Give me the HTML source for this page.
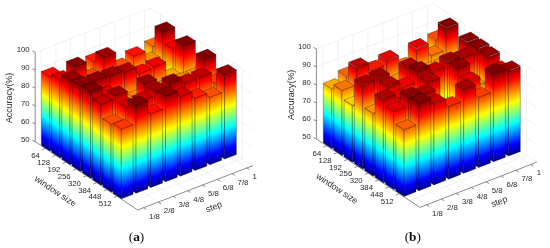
<!DOCTYPE html>
<html lang="en"><head><meta charset="utf-8"><title>Accuracy vs window size and step</title>
<style>html,body{margin:0;padding:0;background:#fff}svg{display:block}rect,path{vector-effect:non-scaling-stroke}</style></head>
<body>
<svg width="550" height="248" viewBox="0 0 550 248">
<defs><linearGradient id="jl" gradientUnits="userSpaceOnUse" x1="0" y1="50" x2="0" y2="100"><stop offset="0" stop-color="#000091"/><stop offset="0.106" stop-color="#0000ff"/><stop offset="0.338" stop-color="#00ffff"/><stop offset="0.578" stop-color="#ffff00"/><stop offset="0.836" stop-color="#ff0000"/><stop offset="0.97" stop-color="#800000"/><stop offset="1" stop-color="#800000"/></linearGradient><linearGradient id="jf" gradientUnits="userSpaceOnUse" x1="0" y1="50" x2="0" y2="100"><stop offset="0" stop-color="#000091"/><stop offset="0.106" stop-color="#0000ff"/><stop offset="0.338" stop-color="#00ffff"/><stop offset="0.578" stop-color="#ffff00"/><stop offset="0.836" stop-color="#ff0000"/><stop offset="0.97" stop-color="#800000"/><stop offset="1" stop-color="#800000"/></linearGradient></defs>
<rect width="550" height="248" fill="#fff"/>
<g><path d="M41.1 139.33L41.1 50.03M41.1 139.33L143.6 207.73M55.85 133.65L55.85 44.35M55.85 133.65L158.35 202.05M70.6 127.97L70.6 38.67M70.6 127.97L173.1 196.37M85.35 122.29L85.35 32.99M85.35 122.29L187.85 190.69M100.1 116.61L100.1 27.31M100.1 116.61L202.6 185.01M114.85 110.93L114.85 21.63M114.85 110.93L217.35 179.33M129.6 105.25L129.6 15.95M129.6 105.25L232.1 173.65M144.35 99.57L144.35 10.27M144.35 99.57L246.85 167.97M160.5 104.14L160.5 14.84M45.45 148.44L160.5 104.14M170.75 110.98L170.75 21.68M55.7 155.28L170.75 110.98M181 117.82L181 28.52M65.95 162.12L181 117.82M191.25 124.66L191.25 35.36M76.2 168.96L191.25 124.66M201.5 131.5L201.5 42.2M86.45 175.8L201.5 131.5M211.75 138.34L211.75 49.04M96.7 182.64L211.75 138.34M222 145.18L222 55.88M106.95 189.48L222 145.18M232.25 152.02L232.25 62.72M117.2 196.32L232.25 152.02M242.5 158.86L242.5 69.56M127.45 203.16L242.5 158.86M35.2 141.6L150.25 97.3M150.25 97.3L252.75 165.7M35.2 123.74L150.25 79.44M150.25 79.44L252.75 147.84M35.2 105.88L150.25 61.58M150.25 61.58L252.75 129.98M35.2 88.02L150.25 43.72M150.25 43.72L252.75 112.12M35.2 70.16L150.25 25.86M150.25 25.86L252.75 94.26M35.2 52.3L150.25 8M150.25 8L252.75 76.4" fill="none" stroke="#ececec" stroke-width="0.7"/>
<g stroke="#000" stroke-opacity="0.5" stroke-width="0.6" stroke-linejoin="round" vector-effect="non-scaling-stroke">
<rect transform="matrix(10.25 6.84 0 -1.79 138.45 191.14)" x="0.6" y="50" width="0.8" height="36.25" fill="url(#jl)"/>
<rect transform="matrix(14.75 -5.68 0 -1.79 40.7 243.88)" x="7.6" y="50" width="0.8" height="36.25" fill="url(#jf)"/>
<path d="M152.8 46.67L164.6 42.13L156.4 36.66L144.6 41.2Z" fill="#ff6e00"/>
<rect transform="matrix(10.25 6.84 0 -1.79 123.7 196.82)" x="0.6" y="50" width="0.8" height="29.8" fill="url(#jl)"/>
<rect transform="matrix(14.75 -5.68 0 -1.79 40.7 243.88)" x="6.6" y="50" width="0.8" height="29.8" fill="url(#jf)"/>
<path d="M138.05 63.87L149.85 59.33L141.65 53.86L129.85 58.4Z" fill="#ffed00"/>
<rect transform="matrix(10.25 6.84 0 -1.79 108.95 202.5)" x="0.6" y="50" width="0.8" height="29.9" fill="url(#jl)"/>
<rect transform="matrix(14.75 -5.68 0 -1.79 40.7 243.88)" x="5.6" y="50" width="0.8" height="29.9" fill="url(#jf)"/>
<path d="M123.3 69.37L135.1 64.83L126.9 59.36L115.1 63.9Z" fill="#ffeb00"/>
<rect transform="matrix(10.25 6.84 0 -1.79 94.2 208.18)" x="0.6" y="50" width="0.8" height="30" fill="url(#jl)"/>
<rect transform="matrix(14.75 -5.68 0 -1.79 40.7 243.88)" x="4.6" y="50" width="0.8" height="30" fill="url(#jf)"/>
<path d="M108.55 74.88L120.35 70.33L112.15 64.86L100.35 69.4Z" fill="#ffe900"/>
<rect transform="matrix(10.25 6.84 0 -1.79 79.45 213.86)" x="0.6" y="50" width="0.8" height="40.48" fill="url(#jl)"/>
<rect transform="matrix(14.75 -5.68 0 -1.79 40.7 243.88)" x="3.6" y="50" width="0.8" height="40.48" fill="url(#jf)"/>
<path d="M93.8 61.84L105.6 57.29L97.4 51.82L85.6 56.37Z" fill="#ff1a00"/>
<rect transform="matrix(10.25 6.84 0 -1.79 64.7 219.54)" x="0.6" y="50" width="0.8" height="35.24" fill="url(#jl)"/>
<rect transform="matrix(14.75 -5.68 0 -1.79 40.7 243.88)" x="2.6" y="50" width="0.8" height="35.24" fill="url(#jf)"/>
<path d="M79.05 76.88L90.85 72.33L82.65 66.86L70.85 71.41Z" fill="#ff8200"/>
<rect transform="matrix(10.25 6.84 0 -1.79 49.95 225.22)" x="0.6" y="50" width="0.8" height="35.34" fill="url(#jl)"/>
<rect transform="matrix(14.75 -5.68 0 -1.79 40.7 243.88)" x="1.6" y="50" width="0.8" height="35.34" fill="url(#jf)"/>
<path d="M64.3 82.38L76.1 77.83L67.9 72.36L56.1 76.91Z" fill="#ff8000"/>
<rect transform="matrix(10.25 6.84 0 -1.79 35.2 230.9)" x="0.6" y="50" width="0.8" height="41.49" fill="url(#jl)"/>
<rect transform="matrix(14.75 -5.68 0 -1.79 40.7 243.88)" x="0.6" y="50" width="0.8" height="41.49" fill="url(#jf)"/>
<path d="M49.55 77.07L61.35 72.53L53.15 67.06L41.35 71.6Z" fill="#ff0600"/>
<rect transform="matrix(10.25 6.84 0 -1.79 138.45 191.14)" x="1.6" y="50" width="0.8" height="48.44" fill="url(#jl)"/>
<rect transform="matrix(14.75 -5.68 0 -1.79 50.95 250.72)" x="7.6" y="50" width="0.8" height="48.44" fill="url(#jf)"/>
<path d="M163.05 31.74L174.85 27.2L166.65 21.73L154.85 26.27Z" fill="#810000"/>
<rect transform="matrix(10.25 6.84 0 -1.79 123.7 196.82)" x="1.6" y="50" width="0.8" height="34.84" fill="url(#jl)"/>
<rect transform="matrix(14.75 -5.68 0 -1.79 50.95 250.72)" x="6.6" y="50" width="0.8" height="34.84" fill="url(#jf)"/>
<path d="M148.3 61.71L160.1 57.17L151.9 51.7L140.1 56.24Z" fill="#ff8a00"/>
<rect transform="matrix(10.25 6.84 0 -1.79 108.95 202.5)" x="1.6" y="50" width="0.8" height="40.99" fill="url(#jl)"/>
<rect transform="matrix(14.75 -5.68 0 -1.79 50.95 250.72)" x="5.6" y="50" width="0.8" height="40.99" fill="url(#jf)"/>
<path d="M133.55 56.41L145.35 51.86L137.15 46.39L125.35 50.94Z" fill="#ff1000"/>
<rect transform="matrix(10.25 6.84 0 -1.79 94.2 208.18)" x="1.6" y="50" width="0.8" height="37.76" fill="url(#jl)"/>
<rect transform="matrix(14.75 -5.68 0 -1.79 50.95 250.72)" x="4.6" y="50" width="0.8" height="37.76" fill="url(#jf)"/>
<path d="M118.8 67.86L130.6 63.31L122.4 57.84L110.6 62.38Z" fill="#ff5000"/>
<rect transform="matrix(10.25 6.84 0 -1.79 79.45 213.86)" x="1.6" y="50" width="0.8" height="46.93" fill="url(#jl)"/>
<rect transform="matrix(14.75 -5.68 0 -1.79 50.95 250.72)" x="3.6" y="50" width="0.8" height="46.93" fill="url(#jf)"/>
<path d="M104.05 57.16L115.85 52.62L107.65 47.14L95.85 51.69Z" fill="#9d0000"/>
<rect transform="matrix(10.25 6.84 0 -1.79 64.7 219.54)" x="1.6" y="50" width="0.8" height="38.26" fill="url(#jl)"/>
<rect transform="matrix(14.75 -5.68 0 -1.79 50.95 250.72)" x="2.6" y="50" width="0.8" height="38.26" fill="url(#jf)"/>
<path d="M89.3 78.32L101.1 73.78L92.9 68.31L81.1 72.85Z" fill="#ff4600"/>
<rect transform="matrix(10.25 6.84 0 -1.79 49.95 225.22)" x="1.6" y="50" width="0.8" height="47.84" fill="url(#jl)"/>
<rect transform="matrix(14.75 -5.68 0 -1.79 50.95 250.72)" x="1.6" y="50" width="0.8" height="47.84" fill="url(#jf)"/>
<path d="M74.55 66.89L86.35 62.35L78.15 56.88L66.35 61.42Z" fill="#8c0000"/>
<rect transform="matrix(10.25 6.84 0 -1.79 35.2 230.9)" x="1.6" y="50" width="0.8" height="43.51" fill="url(#jl)"/>
<rect transform="matrix(14.75 -5.68 0 -1.79 50.95 250.72)" x="0.6" y="50" width="0.8" height="43.51" fill="url(#jf)"/>
<path d="M59.8 80.31L71.6 75.76L63.4 70.29L51.6 74.84Z" fill="#de0000"/>
<rect transform="matrix(10.25 6.84 0 -1.79 138.45 191.14)" x="2.6" y="50" width="0.8" height="42.3" fill="url(#jl)"/>
<rect transform="matrix(14.75 -5.68 0 -1.79 61.2 257.56)" x="7.6" y="50" width="0.8" height="42.3" fill="url(#jf)"/>
<path d="M173.3 49.55L185.1 45L176.9 39.53L165.1 44.08Z" fill="#f50000"/>
<rect transform="matrix(10.25 6.84 0 -1.79 123.7 196.82)" x="2.6" y="50" width="0.8" height="29.8" fill="url(#jl)"/>
<rect transform="matrix(14.75 -5.68 0 -1.79 61.2 257.56)" x="6.6" y="50" width="0.8" height="29.8" fill="url(#jf)"/>
<path d="M158.55 77.55L170.35 73.01L162.15 67.54L150.35 72.08Z" fill="#ffed00"/>
<rect transform="matrix(10.25 6.84 0 -1.79 108.95 202.5)" x="2.6" y="50" width="0.8" height="34.94" fill="url(#jl)"/>
<rect transform="matrix(14.75 -5.68 0 -1.79 61.2 257.56)" x="5.6" y="50" width="0.8" height="34.94" fill="url(#jf)"/>
<path d="M143.8 74.05L155.6 69.51L147.4 64.04L135.6 68.58Z" fill="#ff8800"/>
<rect transform="matrix(10.25 6.84 0 -1.79 94.2 208.18)" x="2.6" y="50" width="0.8" height="35.04" fill="url(#jl)"/>
<rect transform="matrix(14.75 -5.68 0 -1.79 61.2 257.56)" x="4.6" y="50" width="0.8" height="35.04" fill="url(#jf)"/>
<path d="M129.05 79.55L140.85 75.01L132.65 69.54L120.85 74.08Z" fill="#ff8600"/>
<rect transform="matrix(10.25 6.84 0 -1.79 79.45 213.86)" x="2.6" y="50" width="0.8" height="35.14" fill="url(#jl)"/>
<rect transform="matrix(14.75 -5.68 0 -1.79 61.2 257.56)" x="3.6" y="50" width="0.8" height="35.14" fill="url(#jf)"/>
<path d="M114.3 85.06L126.1 80.51L117.9 75.04L106.1 79.58Z" fill="#ff8400"/>
<rect transform="matrix(10.25 6.84 0 -1.79 64.7 219.54)" x="2.6" y="50" width="0.8" height="35.24" fill="url(#jl)"/>
<rect transform="matrix(14.75 -5.68 0 -1.79 61.2 257.56)" x="2.6" y="50" width="0.8" height="35.24" fill="url(#jf)"/>
<path d="M99.55 90.56L111.35 86.01L103.15 80.54L91.35 85.09Z" fill="#ff8200"/>
<rect transform="matrix(10.25 6.84 0 -1.79 49.95 225.22)" x="2.6" y="50" width="0.8" height="35.34" fill="url(#jl)"/>
<rect transform="matrix(14.75 -5.68 0 -1.79 61.2 257.56)" x="1.6" y="50" width="0.8" height="35.34" fill="url(#jf)"/>
<path d="M84.8 96.06L96.6 91.51L88.4 86.04L76.6 90.59Z" fill="#ff8000"/>
<rect transform="matrix(10.25 6.84 0 -1.79 35.2 230.9)" x="2.6" y="50" width="0.8" height="47.23" fill="url(#jl)"/>
<rect transform="matrix(14.75 -5.68 0 -1.79 61.2 257.56)" x="0.6" y="50" width="0.8" height="47.23" fill="url(#jf)"/>
<path d="M70.05 80.5L81.85 75.96L73.65 70.49L61.85 75.03Z" fill="#980000"/>
<rect transform="matrix(10.25 6.84 0 -1.79 138.45 191.14)" x="3.6" y="50" width="0.8" height="48.44" fill="url(#jl)"/>
<rect transform="matrix(14.75 -5.68 0 -1.79 71.45 264.4)" x="7.6" y="50" width="0.8" height="48.44" fill="url(#jf)"/>
<path d="M183.55 45.42L195.35 40.88L187.15 35.41L175.35 39.95Z" fill="#810000"/>
<rect transform="matrix(10.25 6.84 0 -1.79 123.7 196.82)" x="3.6" y="50" width="0.8" height="33.33" fill="url(#jl)"/>
<rect transform="matrix(14.75 -5.68 0 -1.79 71.45 264.4)" x="6.6" y="50" width="0.8" height="33.33" fill="url(#jf)"/>
<path d="M168.8 78.09L180.6 73.54L172.4 68.07L160.6 72.62Z" fill="#ffa700"/>
<rect transform="matrix(10.25 6.84 0 -1.79 108.95 202.5)" x="3.6" y="50" width="0.8" height="42.8" fill="url(#jl)"/>
<rect transform="matrix(14.75 -5.68 0 -1.79 71.45 264.4)" x="5.6" y="50" width="0.8" height="42.8" fill="url(#jf)"/>
<path d="M154.05 66.86L165.85 62.31L157.65 56.84L145.85 61.38Z" fill="#ec0000"/>
<rect transform="matrix(10.25 6.84 0 -1.79 94.2 208.18)" x="3.6" y="50" width="0.8" height="42.09" fill="url(#jl)"/>
<rect transform="matrix(14.75 -5.68 0 -1.79 71.45 264.4)" x="4.6" y="50" width="0.8" height="42.09" fill="url(#jf)"/>
<path d="M139.3 73.8L151.1 69.26L142.9 63.79L131.1 68.33Z" fill="#f90000"/>
<rect transform="matrix(10.25 6.84 0 -1.79 79.45 213.86)" x="3.6" y="50" width="0.8" height="46.02" fill="url(#jl)"/>
<rect transform="matrix(14.75 -5.68 0 -1.79 71.45 264.4)" x="3.6" y="50" width="0.8" height="46.02" fill="url(#jf)"/>
<path d="M124.55 72.46L136.35 67.92L128.15 62.45L116.35 66.99Z" fill="#af0000"/>
<rect transform="matrix(10.25 6.84 0 -1.79 64.7 219.54)" x="3.6" y="50" width="0.8" height="47.13" fill="url(#jl)"/>
<rect transform="matrix(14.75 -5.68 0 -1.79 71.45 264.4)" x="2.6" y="50" width="0.8" height="47.13" fill="url(#jf)"/>
<path d="M109.8 76.16L121.6 71.62L113.4 66.15L101.6 70.69Z" fill="#9a0000"/>
<rect transform="matrix(10.25 6.84 0 -1.79 49.95 225.22)" x="3.6" y="50" width="0.8" height="47.64" fill="url(#jl)"/>
<rect transform="matrix(14.75 -5.68 0 -1.79 71.45 264.4)" x="1.6" y="50" width="0.8" height="47.64" fill="url(#jf)"/>
<path d="M95.05 80.93L106.85 76.39L98.65 70.91L86.85 75.46Z" fill="#900000"/>
<rect transform="matrix(10.25 6.84 0 -1.79 35.2 230.9)" x="3.6" y="50" width="0.8" height="47.84" fill="url(#jl)"/>
<rect transform="matrix(14.75 -5.68 0 -1.79 71.45 264.4)" x="0.6" y="50" width="0.8" height="47.84" fill="url(#jf)"/>
<path d="M80.3 86.25L92.1 81.71L83.9 76.24L72.1 80.78Z" fill="#8c0000"/>
<rect transform="matrix(10.25 6.84 0 -1.79 138.45 191.14)" x="4.6" y="50" width="0.8" height="34.74" fill="url(#jl)"/>
<rect transform="matrix(14.75 -5.68 0 -1.79 81.7 271.24)" x="7.6" y="50" width="0.8" height="34.74" fill="url(#jf)"/>
<path d="M193.8 76.73L205.6 72.19L197.4 66.71L185.6 71.26Z" fill="#ff8c00"/>
<rect transform="matrix(10.25 6.84 0 -1.79 123.7 196.82)" x="4.6" y="50" width="0.8" height="34.84" fill="url(#jl)"/>
<rect transform="matrix(14.75 -5.68 0 -1.79 81.7 271.24)" x="6.6" y="50" width="0.8" height="34.84" fill="url(#jf)"/>
<path d="M179.05 82.23L190.85 77.69L182.65 72.22L170.85 76.76Z" fill="#ff8a00"/>
<rect transform="matrix(10.25 6.84 0 -1.79 108.95 202.5)" x="4.6" y="50" width="0.8" height="34.94" fill="url(#jl)"/>
<rect transform="matrix(14.75 -5.68 0 -1.79 81.7 271.24)" x="5.6" y="50" width="0.8" height="34.94" fill="url(#jf)"/>
<path d="M164.3 87.73L176.1 83.19L167.9 77.72L156.1 82.26Z" fill="#ff8800"/>
<rect transform="matrix(10.25 6.84 0 -1.79 94.2 208.18)" x="4.6" y="50" width="0.8" height="35.04" fill="url(#jl)"/>
<rect transform="matrix(14.75 -5.68 0 -1.79 81.7 271.24)" x="4.6" y="50" width="0.8" height="35.04" fill="url(#jf)"/>
<path d="M149.55 93.23L161.35 88.69L153.15 83.22L141.35 87.76Z" fill="#ff8600"/>
<rect transform="matrix(10.25 6.84 0 -1.79 79.45 213.86)" x="4.6" y="50" width="0.8" height="35.14" fill="url(#jl)"/>
<rect transform="matrix(14.75 -5.68 0 -1.79 81.7 271.24)" x="3.6" y="50" width="0.8" height="35.14" fill="url(#jf)"/>
<path d="M134.8 98.74L146.6 94.19L138.4 88.72L126.6 93.26Z" fill="#ff8400"/>
<rect transform="matrix(10.25 6.84 0 -1.79 64.7 219.54)" x="4.6" y="50" width="0.8" height="35.24" fill="url(#jl)"/>
<rect transform="matrix(14.75 -5.68 0 -1.79 81.7 271.24)" x="2.6" y="50" width="0.8" height="35.24" fill="url(#jf)"/>
<path d="M120.05 104.24L131.85 99.69L123.65 94.22L111.85 98.77Z" fill="#ff8200"/>
<rect transform="matrix(10.25 6.84 0 -1.79 49.95 225.22)" x="4.6" y="50" width="0.8" height="43.4" fill="url(#jl)"/>
<rect transform="matrix(14.75 -5.68 0 -1.79 81.7 271.24)" x="1.6" y="50" width="0.8" height="43.4" fill="url(#jf)"/>
<path d="M105.3 95.34L117.1 90.8L108.9 85.33L97.1 89.87Z" fill="#e10000"/>
<rect transform="matrix(10.25 6.84 0 -1.79 35.2 230.9)" x="4.6" y="50" width="0.8" height="48.54" fill="url(#jl)"/>
<rect transform="matrix(14.75 -5.68 0 -1.79 81.7 271.24)" x="0.6" y="50" width="0.8" height="48.54" fill="url(#jf)"/>
<path d="M90.55 91.84L102.35 87.3L94.15 81.83L82.35 86.37Z" fill="#800000"/>
<rect transform="matrix(10.25 6.84 0 -1.79 138.45 191.14)" x="5.6" y="50" width="0.8" height="48.44" fill="url(#jl)"/>
<rect transform="matrix(14.75 -5.68 0 -1.79 91.95 278.08)" x="7.6" y="50" width="0.8" height="48.44" fill="url(#jf)"/>
<path d="M204.05 59.1L215.85 54.56L207.65 49.09L195.85 53.63Z" fill="#810000"/>
<rect transform="matrix(10.25 6.84 0 -1.79 123.7 196.82)" x="5.6" y="50" width="0.8" height="34.84" fill="url(#jl)"/>
<rect transform="matrix(14.75 -5.68 0 -1.79 91.95 278.08)" x="6.6" y="50" width="0.8" height="34.84" fill="url(#jf)"/>
<path d="M189.3 89.07L201.1 84.53L192.9 79.06L181.1 83.6Z" fill="#ff8a00"/>
<rect transform="matrix(10.25 6.84 0 -1.79 108.95 202.5)" x="5.6" y="50" width="0.8" height="34.94" fill="url(#jl)"/>
<rect transform="matrix(14.75 -5.68 0 -1.79 91.95 278.08)" x="5.6" y="50" width="0.8" height="34.94" fill="url(#jf)"/>
<path d="M174.55 94.57L186.35 90.03L178.15 84.56L166.35 89.1Z" fill="#ff8800"/>
<rect transform="matrix(10.25 6.84 0 -1.79 94.2 208.18)" x="5.6" y="50" width="0.8" height="35.04" fill="url(#jl)"/>
<rect transform="matrix(14.75 -5.68 0 -1.79 91.95 278.08)" x="4.6" y="50" width="0.8" height="35.04" fill="url(#jf)"/>
<path d="M159.8 100.07L171.6 95.53L163.4 90.06L151.6 94.6Z" fill="#ff8600"/>
<rect transform="matrix(10.25 6.84 0 -1.79 79.45 213.86)" x="5.6" y="50" width="0.8" height="47.23" fill="url(#jl)"/>
<rect transform="matrix(14.75 -5.68 0 -1.79 91.95 278.08)" x="3.6" y="50" width="0.8" height="47.23" fill="url(#jf)"/>
<path d="M145.05 83.98L156.85 79.44L148.65 73.97L136.85 78.51Z" fill="#980000"/>
<rect transform="matrix(10.25 6.84 0 -1.79 64.7 219.54)" x="5.6" y="50" width="0.8" height="35.24" fill="url(#jl)"/>
<rect transform="matrix(14.75 -5.68 0 -1.79 91.95 278.08)" x="2.6" y="50" width="0.8" height="35.24" fill="url(#jf)"/>
<path d="M130.3 111.08L142.1 106.53L133.9 101.06L122.1 105.61Z" fill="#ff8200"/>
<rect transform="matrix(10.25 6.84 0 -1.79 49.95 225.22)" x="5.6" y="50" width="0.8" height="46.93" fill="url(#jl)"/>
<rect transform="matrix(14.75 -5.68 0 -1.79 91.95 278.08)" x="1.6" y="50" width="0.8" height="46.93" fill="url(#jf)"/>
<path d="M115.55 95.88L127.35 91.34L119.15 85.86L107.35 90.41Z" fill="#9d0000"/>
<rect transform="matrix(10.25 6.84 0 -1.79 35.2 230.9)" x="5.6" y="50" width="0.8" height="45.22" fill="url(#jl)"/>
<rect transform="matrix(14.75 -5.68 0 -1.79 91.95 278.08)" x="0.6" y="50" width="0.8" height="45.22" fill="url(#jf)"/>
<path d="M100.8 104.61L112.6 100.07L104.4 94.6L92.6 99.14Z" fill="#be0000"/>
<rect transform="matrix(10.25 6.84 0 -1.79 138.45 191.14)" x="6.6" y="50" width="0.8" height="38.77" fill="url(#jl)"/>
<rect transform="matrix(14.75 -5.68 0 -1.79 102.2 284.92)" x="7.6" y="50" width="0.8" height="38.77" fill="url(#jf)"/>
<path d="M214.3 83.21L226.1 78.67L217.9 73.2L206.1 77.74Z" fill="#ff3c00"/>
<rect transform="matrix(10.25 6.84 0 -1.79 123.7 196.82)" x="6.6" y="50" width="0.8" height="45.12" fill="url(#jl)"/>
<rect transform="matrix(14.75 -5.68 0 -1.79 102.2 284.92)" x="6.6" y="50" width="0.8" height="45.12" fill="url(#jf)"/>
<path d="M199.55 77.55L211.35 73.01L203.15 67.54L191.35 72.08Z" fill="#c00000"/>
<rect transform="matrix(10.25 6.84 0 -1.79 108.95 202.5)" x="6.6" y="50" width="0.8" height="45.02" fill="url(#jl)"/>
<rect transform="matrix(14.75 -5.68 0 -1.79 102.2 284.92)" x="5.6" y="50" width="0.8" height="45.02" fill="url(#jf)"/>
<path d="M184.8 83.41L196.6 78.87L188.4 73.39L176.6 77.94Z" fill="#c20000"/>
<rect transform="matrix(10.25 6.84 0 -1.79 94.2 208.18)" x="6.6" y="50" width="0.8" height="48.14" fill="url(#jl)"/>
<rect transform="matrix(14.75 -5.68 0 -1.79 102.2 284.92)" x="4.6" y="50" width="0.8" height="48.14" fill="url(#jf)"/>
<path d="M170.05 83.52L181.85 78.97L173.65 73.5L161.85 78.05Z" fill="#860000"/>
<rect transform="matrix(10.25 6.84 0 -1.79 79.45 213.86)" x="6.6" y="50" width="0.8" height="46.63" fill="url(#jl)"/>
<rect transform="matrix(14.75 -5.68 0 -1.79 102.2 284.92)" x="3.6" y="50" width="0.8" height="46.63" fill="url(#jf)"/>
<path d="M155.3 91.89L167.1 87.35L158.9 81.88L147.1 86.42Z" fill="#a30000"/>
<rect transform="matrix(10.25 6.84 0 -1.79 64.7 219.54)" x="6.6" y="50" width="0.8" height="44.51" fill="url(#jl)"/>
<rect transform="matrix(14.75 -5.68 0 -1.79 102.2 284.92)" x="2.6" y="50" width="0.8" height="44.51" fill="url(#jf)"/>
<path d="M140.55 101.36L152.35 96.82L144.15 91.35L132.35 95.89Z" fill="#cb0000"/>
<rect transform="matrix(10.25 6.84 0 -1.79 49.95 225.22)" x="6.6" y="50" width="0.8" height="44.21" fill="url(#jl)"/>
<rect transform="matrix(14.75 -5.68 0 -1.79 102.2 284.92)" x="1.6" y="50" width="0.8" height="44.21" fill="url(#jf)"/>
<path d="M125.8 107.58L137.6 103.03L129.4 97.56L117.6 102.1Z" fill="#d10000"/>
<rect transform="matrix(10.25 6.84 0 -1.79 35.2 230.9)" x="6.6" y="50" width="0.8" height="38.06" fill="url(#jl)"/>
<rect transform="matrix(14.75 -5.68 0 -1.79 102.2 284.92)" x="0.6" y="50" width="0.8" height="38.06" fill="url(#jf)"/>
<path d="M111.05 124.24L122.85 119.7L114.65 114.22L102.85 118.77Z" fill="#ff4a00"/>
<rect transform="matrix(10.25 6.84 0 -1.79 138.45 191.14)" x="7.6" y="50" width="0.8" height="47.44" fill="url(#jl)"/>
<rect transform="matrix(14.75 -5.68 0 -1.79 112.45 291.76)" x="7.6" y="50" width="0.8" height="47.44" fill="url(#jf)"/>
<path d="M224.55 74.57L236.35 70.02L228.15 64.55L216.35 69.1Z" fill="#940000"/>
<rect transform="matrix(10.25 6.84 0 -1.79 123.7 196.82)" x="7.6" y="50" width="0.8" height="37.86" fill="url(#jl)"/>
<rect transform="matrix(14.75 -5.68 0 -1.79 112.45 291.76)" x="6.6" y="50" width="0.8" height="37.86" fill="url(#jf)"/>
<path d="M209.8 97.36L221.6 92.81L213.4 87.34L201.6 91.89Z" fill="#ff4e00"/>
<rect transform="matrix(10.25 6.84 0 -1.79 108.95 202.5)" x="7.6" y="50" width="0.8" height="40.48" fill="url(#jl)"/>
<rect transform="matrix(14.75 -5.68 0 -1.79 112.45 291.76)" x="5.6" y="50" width="0.8" height="40.48" fill="url(#jf)"/>
<path d="M195.05 98.36L206.85 93.81L198.65 88.34L186.85 92.89Z" fill="#ff1a00"/>
<rect transform="matrix(10.25 6.84 0 -1.79 94.2 208.18)" x="7.6" y="50" width="0.8" height="44.51" fill="url(#jl)"/>
<rect transform="matrix(14.75 -5.68 0 -1.79 112.45 291.76)" x="4.6" y="50" width="0.8" height="44.51" fill="url(#jf)"/>
<path d="M180.3 96.84L192.1 92.3L183.9 86.83L172.1 91.37Z" fill="#cb0000"/>
<rect transform="matrix(10.25 6.84 0 -1.79 79.45 213.86)" x="7.6" y="50" width="0.8" height="48.04" fill="url(#jl)"/>
<rect transform="matrix(14.75 -5.68 0 -1.79 112.45 291.76)" x="3.6" y="50" width="0.8" height="48.04" fill="url(#jf)"/>
<path d="M165.55 96.22L177.35 91.67L169.15 86.2L157.35 90.74Z" fill="#880000"/>
<rect transform="matrix(10.25 6.84 0 -1.79 64.7 219.54)" x="7.6" y="50" width="0.8" height="41.29" fill="url(#jl)"/>
<rect transform="matrix(14.75 -5.68 0 -1.79 112.45 291.76)" x="2.6" y="50" width="0.8" height="41.29" fill="url(#jf)"/>
<path d="M150.8 113.95L162.6 109.41L154.4 103.94L142.6 108.48Z" fill="#ff0a00"/>
<rect transform="matrix(10.25 6.84 0 -1.79 49.95 225.22)" x="7.6" y="50" width="0.8" height="49.15" fill="url(#jl)"/>
<rect transform="matrix(14.75 -5.68 0 -1.79 112.45 291.76)" x="1.6" y="50" width="0.8" height="49.15" fill="url(#jf)"/>
<path d="M136.05 105.59L147.85 101.05L139.65 95.58L127.85 100.12Z" fill="#800000"/>
<rect transform="matrix(10.25 6.84 0 -1.79 35.2 230.9)" x="7.6" y="50" width="0.8" height="39.07" fill="url(#jl)"/>
<rect transform="matrix(14.75 -5.68 0 -1.79 112.45 291.76)" x="0.6" y="50" width="0.8" height="39.07" fill="url(#jf)"/>
<path d="M121.3 129.28L133.1 124.73L124.9 119.26L113.1 123.8Z" fill="#ff3600"/>
</g>
<path d="M35.2 141.6L35.2 52.3M35.2 141.6L137.7 210M137.7 210L252.75 165.7M35.2 141.6L32.4 140.3M35.2 123.74L32.4 122.44M35.2 105.88L32.4 104.58M35.2 88.02L32.4 86.72M35.2 70.16L32.4 68.86M35.2 52.3L32.4 51M45.45 148.44L42.21 149.69M55.7 155.28L52.46 156.53M65.95 162.12L62.71 163.37M76.2 168.96L72.95 170.21M86.45 175.8L83.2 177.05M96.7 182.64L93.45 183.89M106.95 189.48L103.7 190.73M117.2 196.32L113.95 197.57M143.6 207.73L146.31 209.53M158.35 202.05L161.06 203.85M173.1 196.37L175.81 198.17M187.85 190.69L190.56 192.49M202.6 185.01L205.31 186.81M217.35 179.33L220.06 181.13M232.1 173.65L234.81 175.45M246.85 167.97L249.56 169.77" fill="none" stroke="#5a5a5a" stroke-width="0.7"/>
<g font-family="'Liberation Sans', Arial, sans-serif" font-size="7.8" fill="#2a2a2a">
<text x="29.7" y="141.7" text-anchor="end">50</text>
<text x="29.7" y="123.84" text-anchor="end">60</text>
<text x="29.7" y="105.98" text-anchor="end">70</text>
<text x="29.7" y="88.12" text-anchor="end">80</text>
<text x="29.7" y="70.26" text-anchor="end">90</text>
<text x="29.7" y="52.4" text-anchor="end">100</text>
<text x="39.95" y="158.44" text-anchor="end">64</text>
<text x="50.2" y="165.28" text-anchor="end">128</text>
<text x="60.45" y="172.12" text-anchor="end">192</text>
<text x="70.7" y="178.96" text-anchor="end">256</text>
<text x="80.95" y="185.8" text-anchor="end">320</text>
<text x="91.2" y="192.64" text-anchor="end">384</text>
<text x="101.45" y="199.48" text-anchor="end">448</text>
<text x="111.7" y="206.32" text-anchor="end">512</text>
<text x="154.5" y="218.73" text-anchor="middle">1/8</text>
<text x="169.25" y="213.05" text-anchor="middle">2/8</text>
<text x="184" y="207.37" text-anchor="middle">3/8</text>
<text x="198.75" y="201.69" text-anchor="middle">4/8</text>
<text x="213.5" y="196.01" text-anchor="middle">5/8</text>
<text x="228.25" y="190.33" text-anchor="middle">6/8</text>
<text x="243" y="184.65" text-anchor="middle">7/8</text>
<text x="254.75" y="178.97" text-anchor="middle">1</text>
<text transform="translate(12.3 97.95) rotate(-90)" text-anchor="middle" font-size="8.9">Accuracy(%)</text>
<text transform="translate(53.85 193.56) rotate(33.72)" text-anchor="middle" font-size="8.9">window size</text>
<text transform="translate(214.82 209.58) rotate(-21.06)" text-anchor="middle" font-size="8.9">step</text>
</g>
<text x="136.5" y="240.7" text-anchor="middle" font-family="'Liberation Serif', 'DejaVu Serif', serif" font-size="13.3" fill="#111">(<tspan font-weight="bold">a</tspan>)</text></g>
<g><path d="M323.1 136.41L323.1 46.16M323.1 136.41L426.6 204.81M338 130.65L338 40.4M338 130.65L441.5 199.05M352.9 124.89L352.9 34.64M352.9 124.89L456.4 193.29M367.8 119.13L367.8 28.88M367.8 119.13L471.3 187.53M382.7 113.37L382.7 23.12M382.7 113.37L486.2 181.77M397.6 107.61L397.6 17.36M397.6 107.61L501.1 176.01M412.5 101.85L412.5 11.6M412.5 101.85L516 170.25M427.4 96.09L427.4 5.84M427.4 96.09L530.9 164.49M443.72 100.62L443.72 10.37M326.75 145.84L443.72 100.62M454.06 107.46L454.06 17.21M337.1 152.68L454.06 107.46M464.42 114.3L464.42 24.05M347.45 159.52L464.42 114.3M474.76 121.14L474.76 30.89M357.8 166.36L474.76 121.14M485.12 127.98L485.12 37.73M368.15 173.2L485.12 127.98M495.47 134.82L495.47 44.57M378.5 180.04L495.47 134.82M505.81 141.66L505.81 51.41M388.85 186.88L505.81 141.66M516.16 148.5L516.16 58.25M399.2 193.72L516.16 148.5M526.51 155.34L526.51 65.09M409.55 200.56L526.51 155.34M316.4 139L433.37 93.78M433.37 93.78L536.87 162.18M316.4 120.95L433.37 75.73M433.37 75.73L536.87 144.13M316.4 102.9L433.37 57.68M433.37 57.68L536.87 126.08M316.4 84.85L433.37 39.63M433.37 39.63L536.87 108.03M316.4 66.8L433.37 21.58M433.37 21.58L536.87 89.98M316.4 48.75L433.37 3.53M433.37 3.53L536.87 71.93" fill="none" stroke="#ececec" stroke-width="0.7"/>
<g stroke="#000" stroke-opacity="0.5" stroke-width="0.6" stroke-linejoin="round" vector-effect="non-scaling-stroke">
<rect transform="matrix(10.35 6.84 0 -1.8 421.44 188.64)" x="0.6" y="50" width="0.8" height="37.88" fill="url(#jl)"/>
<rect transform="matrix(14.9 -5.76 0 -1.8 322.69 241.99)" x="7.6" y="50" width="0.8" height="37.88" fill="url(#jf)"/>
<path d="M435.94 39.59L447.86 34.99L439.57 29.51L427.65 34.12Z" fill="#ff4d00"/>
<rect transform="matrix(10.35 6.84 0 -1.8 406.54 194.4)" x="0.6" y="50" width="0.8" height="29.05" fill="url(#jl)"/>
<rect transform="matrix(14.9 -5.76 0 -1.8 322.69 241.99)" x="6.6" y="50" width="0.8" height="29.05" fill="url(#jf)"/>
<path d="M421.03 61.29L432.95 56.68L424.67 51.21L412.75 55.82Z" fill="#fffc00"/>
<rect transform="matrix(10.35 6.84 0 -1.8 391.64 200.16)" x="0.6" y="50" width="0.8" height="29.2" fill="url(#jl)"/>
<rect transform="matrix(14.9 -5.76 0 -1.8 322.69 241.99)" x="5.6" y="50" width="0.8" height="29.2" fill="url(#jf)"/>
<path d="M406.13 66.78L418.06 62.17L409.77 56.7L397.85 61.31Z" fill="#fff900"/>
<rect transform="matrix(10.35 6.84 0 -1.8 376.75 205.92)" x="0.6" y="50" width="0.8" height="29.34" fill="url(#jl)"/>
<rect transform="matrix(14.9 -5.76 0 -1.8 322.69 241.99)" x="4.6" y="50" width="0.8" height="29.34" fill="url(#jf)"/>
<path d="M391.24 72.29L403.15 67.68L394.88 62.21L382.95 66.82Z" fill="#fff600"/>
<rect transform="matrix(10.35 6.84 0 -1.8 361.84 211.68)" x="0.6" y="50" width="0.8" height="34.47" fill="url(#jl)"/>
<rect transform="matrix(14.9 -5.76 0 -1.8 322.69 241.99)" x="3.6" y="50" width="0.8" height="34.47" fill="url(#jf)"/>
<path d="M376.33 68.79L388.25 64.18L379.97 58.71L368.05 63.32Z" fill="#ff9100"/>
<rect transform="matrix(10.35 6.84 0 -1.8 346.94 217.44)" x="0.6" y="50" width="0.8" height="34.61" fill="url(#jl)"/>
<rect transform="matrix(14.9 -5.76 0 -1.8 322.69 241.99)" x="2.6" y="50" width="0.8" height="34.61" fill="url(#jf)"/>
<path d="M361.44 74.3L373.35 69.69L365.07 64.22L353.15 68.82Z" fill="#ff8e00"/>
<rect transform="matrix(10.35 6.84 0 -1.8 332.04 223.2)" x="0.6" y="50" width="0.8" height="36.85" fill="url(#jl)"/>
<rect transform="matrix(14.9 -5.76 0 -1.8 322.69 241.99)" x="1.6" y="50" width="0.8" height="36.85" fill="url(#jf)"/>
<path d="M346.53 76.01L358.45 71.41L350.17 65.93L338.25 70.54Z" fill="#ff6200"/>
<rect transform="matrix(10.35 6.84 0 -1.8 317.14 228.96)" x="0.6" y="50" width="0.8" height="33.01" fill="url(#jl)"/>
<rect transform="matrix(14.9 -5.76 0 -1.8 322.69 241.99)" x="0.6" y="50" width="0.8" height="33.01" fill="url(#jf)"/>
<path d="M331.63 88.7L343.56 84.1L335.27 78.62L323.35 83.23Z" fill="#ffae00"/>
<rect transform="matrix(10.35 6.84 0 -1.8 421.44 188.64)" x="1.6" y="50" width="0.8" height="48.16" fill="url(#jl)"/>
<rect transform="matrix(14.9 -5.76 0 -1.8 333.04 248.83)" x="7.6" y="50" width="0.8" height="48.16" fill="url(#jf)"/>
<path d="M446.28 27.88L458.2 23.27L449.93 17.8L438 22.41Z" fill="#860000"/>
<rect transform="matrix(10.35 6.84 0 -1.8 406.54 194.4)" x="1.6" y="50" width="0.8" height="36.03" fill="url(#jl)"/>
<rect transform="matrix(14.9 -5.76 0 -1.8 333.04 248.83)" x="6.6" y="50" width="0.8" height="36.03" fill="url(#jf)"/>
<path d="M431.38 55.53L443.3 50.93L435.02 45.45L423.1 50.06Z" fill="#ff7200"/>
<rect transform="matrix(10.35 6.84 0 -1.8 391.64 200.16)" x="1.6" y="50" width="0.8" height="43.16" fill="url(#jl)"/>
<rect transform="matrix(14.9 -5.76 0 -1.8 333.04 248.83)" x="5.6" y="50" width="0.8" height="43.16" fill="url(#jf)"/>
<path d="M416.48 48.42L428.4 43.82L420.12 38.34L408.2 42.95Z" fill="#e50000"/>
<rect transform="matrix(10.35 6.84 0 -1.8 376.75 205.92)" x="1.6" y="50" width="0.8" height="35.82" fill="url(#jl)"/>
<rect transform="matrix(14.9 -5.76 0 -1.8 333.04 248.83)" x="4.6" y="50" width="0.8" height="35.82" fill="url(#jf)"/>
<path d="M401.58 67.43L413.5 62.82L405.23 57.35L393.3 61.96Z" fill="#ff7600"/>
<rect transform="matrix(10.35 6.84 0 -1.8 361.84 211.68)" x="1.6" y="50" width="0.8" height="43.05" fill="url(#jl)"/>
<rect transform="matrix(14.9 -5.76 0 -1.8 333.04 248.83)" x="3.6" y="50" width="0.8" height="43.05" fill="url(#jf)"/>
<path d="M386.68 60.14L398.6 55.53L390.32 50.06L378.4 54.67Z" fill="#e70000"/>
<rect transform="matrix(10.35 6.84 0 -1.8 346.94 217.44)" x="1.6" y="50" width="0.8" height="40.6" fill="url(#jl)"/>
<rect transform="matrix(14.9 -5.76 0 -1.8 333.04 248.83)" x="2.6" y="50" width="0.8" height="40.6" fill="url(#jf)"/>
<path d="M371.78 70.33L383.7 65.72L375.42 60.25L363.5 64.85Z" fill="#ff1800"/>
<rect transform="matrix(10.35 6.84 0 -1.8 332.04 223.2)" x="1.6" y="50" width="0.8" height="45.23" fill="url(#jl)"/>
<rect transform="matrix(14.9 -5.76 0 -1.8 333.04 248.83)" x="1.6" y="50" width="0.8" height="45.23" fill="url(#jf)"/>
<path d="M356.88 67.73L368.8 63.12L360.52 57.65L348.6 62.26Z" fill="#be0000"/>
<rect transform="matrix(10.35 6.84 0 -1.8 317.14 228.96)" x="1.6" y="50" width="0.8" height="35.9" fill="url(#jl)"/>
<rect transform="matrix(14.9 -5.76 0 -1.8 333.04 248.83)" x="0.6" y="50" width="0.8" height="35.9" fill="url(#jf)"/>
<path d="M341.98 90.33L353.9 85.72L345.62 80.25L333.7 84.86Z" fill="#ff7500"/>
<rect transform="matrix(10.35 6.84 0 -1.8 421.44 188.64)" x="2.6" y="50" width="0.8" height="33.89" fill="url(#jl)"/>
<rect transform="matrix(14.9 -5.76 0 -1.8 343.39 255.67)" x="7.6" y="50" width="0.8" height="33.89" fill="url(#jf)"/>
<path d="M456.63 60.48L468.56 55.87L460.28 50.4L448.36 55Z" fill="#ff9c00"/>
<rect transform="matrix(10.35 6.84 0 -1.8 406.54 194.4)" x="2.6" y="50" width="0.8" height="34.04" fill="url(#jl)"/>
<rect transform="matrix(14.9 -5.76 0 -1.8 343.39 255.67)" x="6.6" y="50" width="0.8" height="34.04" fill="url(#jf)"/>
<path d="M441.73 65.97L453.65 61.36L445.38 55.89L433.45 60.49Z" fill="#ff9900"/>
<rect transform="matrix(10.35 6.84 0 -1.8 391.64 200.16)" x="2.6" y="50" width="0.8" height="34.18" fill="url(#jl)"/>
<rect transform="matrix(14.9 -5.76 0 -1.8 343.39 255.67)" x="5.6" y="50" width="0.8" height="34.18" fill="url(#jf)"/>
<path d="M426.83 71.47L438.75 66.87L430.48 61.39L418.56 66Z" fill="#ff9700"/>
<rect transform="matrix(10.35 6.84 0 -1.8 376.75 205.92)" x="2.6" y="50" width="0.8" height="34.33" fill="url(#jl)"/>
<rect transform="matrix(14.9 -5.76 0 -1.8 343.39 255.67)" x="4.6" y="50" width="0.8" height="34.33" fill="url(#jf)"/>
<path d="M411.93 76.96L423.86 72.35L415.58 66.88L403.65 71.49Z" fill="#ff9400"/>
<rect transform="matrix(10.35 6.84 0 -1.8 361.84 211.68)" x="2.6" y="50" width="0.8" height="34.47" fill="url(#jl)"/>
<rect transform="matrix(14.9 -5.76 0 -1.8 343.39 255.67)" x="3.6" y="50" width="0.8" height="34.47" fill="url(#jf)"/>
<path d="M397.03 82.47L408.95 77.86L400.68 72.39L388.75 77Z" fill="#ff9100"/>
<rect transform="matrix(10.35 6.84 0 -1.8 346.94 217.44)" x="2.6" y="50" width="0.8" height="34.61" fill="url(#jl)"/>
<rect transform="matrix(14.9 -5.76 0 -1.8 343.39 255.67)" x="2.6" y="50" width="0.8" height="34.61" fill="url(#jf)"/>
<path d="M382.13 87.98L394.05 83.37L385.77 77.9L373.86 82.5Z" fill="#ff8e00"/>
<rect transform="matrix(10.35 6.84 0 -1.8 332.04 223.2)" x="2.6" y="50" width="0.8" height="34.76" fill="url(#jl)"/>
<rect transform="matrix(14.9 -5.76 0 -1.8 343.39 255.67)" x="1.6" y="50" width="0.8" height="34.76" fill="url(#jf)"/>
<path d="M367.23 93.47L379.15 88.86L370.88 83.39L358.95 87.99Z" fill="#ff8b00"/>
<rect transform="matrix(10.35 6.84 0 -1.8 317.14 228.96)" x="2.6" y="50" width="0.8" height="31.41" fill="url(#jl)"/>
<rect transform="matrix(14.9 -5.76 0 -1.8 343.39 255.67)" x="0.6" y="50" width="0.8" height="31.41" fill="url(#jf)"/>
<path d="M352.33 105.27L364.25 100.66L355.98 95.19L344.06 99.8Z" fill="#ffcd00"/>
<rect transform="matrix(10.35 6.84 0 -1.8 421.44 188.64)" x="3.6" y="50" width="0.8" height="47.86" fill="url(#jl)"/>
<rect transform="matrix(14.9 -5.76 0 -1.8 353.75 262.51)" x="7.6" y="50" width="0.8" height="47.86" fill="url(#jf)"/>
<path d="M466.99 42.1L478.91 37.49L470.62 32.02L458.7 36.63Z" fill="#8c0000"/>
<rect transform="matrix(10.35 6.84 0 -1.8 406.54 194.4)" x="3.6" y="50" width="0.8" height="34.04" fill="url(#jl)"/>
<rect transform="matrix(14.9 -5.76 0 -1.8 353.75 262.51)" x="6.6" y="50" width="0.8" height="34.04" fill="url(#jf)"/>
<path d="M452.08 72.81L464 68.2L455.72 62.73L443.8 67.33Z" fill="#ff9900"/>
<rect transform="matrix(10.35 6.84 0 -1.8 391.64 200.16)" x="3.6" y="50" width="0.8" height="34.18" fill="url(#jl)"/>
<rect transform="matrix(14.9 -5.76 0 -1.8 353.75 262.51)" x="5.6" y="50" width="0.8" height="34.18" fill="url(#jf)"/>
<path d="M437.19 78.31L449.11 73.71L440.82 68.23L428.9 72.84Z" fill="#ff9700"/>
<rect transform="matrix(10.35 6.84 0 -1.8 376.75 205.92)" x="3.6" y="50" width="0.8" height="34.33" fill="url(#jl)"/>
<rect transform="matrix(14.9 -5.76 0 -1.8 353.75 262.51)" x="4.6" y="50" width="0.8" height="34.33" fill="url(#jf)"/>
<path d="M422.28 83.8L434.21 79.19L425.92 73.72L414 78.33Z" fill="#ff9400"/>
<rect transform="matrix(10.35 6.84 0 -1.8 361.84 211.68)" x="3.6" y="50" width="0.8" height="46.44" fill="url(#jl)"/>
<rect transform="matrix(14.9 -5.76 0 -1.8 353.75 262.51)" x="3.6" y="50" width="0.8" height="46.44" fill="url(#jf)"/>
<path d="M407.38 67.7L419.31 63.1L411.02 57.62L399.1 62.23Z" fill="#a70000"/>
<rect transform="matrix(10.35 6.84 0 -1.8 346.94 217.44)" x="3.6" y="50" width="0.8" height="34.61" fill="url(#jl)"/>
<rect transform="matrix(14.9 -5.76 0 -1.8 353.75 262.51)" x="2.6" y="50" width="0.8" height="34.61" fill="url(#jf)"/>
<path d="M392.49 94.82L404.4 90.21L396.12 84.74L384.2 89.34Z" fill="#ff8e00"/>
<rect transform="matrix(10.35 6.84 0 -1.8 332.04 223.2)" x="3.6" y="50" width="0.8" height="47.12" fill="url(#jl)"/>
<rect transform="matrix(14.9 -5.76 0 -1.8 353.75 262.51)" x="1.6" y="50" width="0.8" height="47.12" fill="url(#jf)"/>
<path d="M377.58 78L389.5 73.39L381.22 67.92L369.3 72.52Z" fill="#9a0000"/>
<rect transform="matrix(10.35 6.84 0 -1.8 317.14 228.96)" x="3.6" y="50" width="0.8" height="46.57" fill="url(#jl)"/>
<rect transform="matrix(14.9 -5.76 0 -1.8 353.75 262.51)" x="0.6" y="50" width="0.8" height="46.57" fill="url(#jf)"/>
<path d="M362.69 84.75L374.61 80.14L366.32 74.67L354.4 79.28Z" fill="#a40000"/>
<rect transform="matrix(10.35 6.84 0 -1.8 421.44 188.64)" x="4.6" y="50" width="0.8" height="47.96" fill="url(#jl)"/>
<rect transform="matrix(14.9 -5.76 0 -1.8 364.09 269.35)" x="7.6" y="50" width="0.8" height="47.96" fill="url(#jf)"/>
<path d="M477.33 48.76L489.25 44.15L480.98 38.68L469.06 43.29Z" fill="#8a0000"/>
<rect transform="matrix(10.35 6.84 0 -1.8 406.54 194.4)" x="4.6" y="50" width="0.8" height="46.01" fill="url(#jl)"/>
<rect transform="matrix(14.9 -5.76 0 -1.8 364.09 269.35)" x="6.6" y="50" width="0.8" height="46.01" fill="url(#jf)"/>
<path d="M462.43 58.04L474.35 53.43L466.07 47.96L454.15 52.57Z" fill="#af0000"/>
<rect transform="matrix(10.35 6.84 0 -1.8 391.64 200.16)" x="4.6" y="50" width="0.8" height="47.15" fill="url(#jl)"/>
<rect transform="matrix(14.9 -5.76 0 -1.8 364.09 269.35)" x="5.6" y="50" width="0.8" height="47.15" fill="url(#jf)"/>
<path d="M447.53 61.74L459.45 57.13L451.18 51.66L439.25 56.27Z" fill="#990000"/>
<rect transform="matrix(10.35 6.84 0 -1.8 376.75 205.92)" x="4.6" y="50" width="0.8" height="44.7" fill="url(#jl)"/>
<rect transform="matrix(14.9 -5.76 0 -1.8 364.09 269.35)" x="4.6" y="50" width="0.8" height="44.7" fill="url(#jf)"/>
<path d="M432.63 71.92L444.55 67.32L436.27 61.84L424.36 66.45Z" fill="#c80000"/>
<rect transform="matrix(10.35 6.84 0 -1.8 361.84 211.68)" x="4.6" y="50" width="0.8" height="48.23" fill="url(#jl)"/>
<rect transform="matrix(14.9 -5.76 0 -1.8 364.09 269.35)" x="3.6" y="50" width="0.8" height="48.23" fill="url(#jf)"/>
<path d="M417.73 71.31L429.65 66.7L421.38 61.23L409.45 65.84Z" fill="#850000"/>
<rect transform="matrix(10.35 6.84 0 -1.8 346.94 217.44)" x="4.6" y="50" width="0.8" height="42.59" fill="url(#jl)"/>
<rect transform="matrix(14.9 -5.76 0 -1.8 364.09 269.35)" x="2.6" y="50" width="0.8" height="42.59" fill="url(#jf)"/>
<path d="M402.83 87.25L414.75 82.65L406.47 77.17L394.56 81.78Z" fill="#f00000"/>
<rect transform="matrix(10.35 6.84 0 -1.8 332.04 223.2)" x="4.6" y="50" width="0.8" height="46.13" fill="url(#jl)"/>
<rect transform="matrix(14.9 -5.76 0 -1.8 364.09 269.35)" x="1.6" y="50" width="0.8" height="46.13" fill="url(#jf)"/>
<path d="M387.93 86.62L399.85 82.02L391.57 76.54L379.65 81.15Z" fill="#ad0000"/>
<rect transform="matrix(10.35 6.84 0 -1.8 317.14 228.96)" x="4.6" y="50" width="0.8" height="34.5" fill="url(#jl)"/>
<rect transform="matrix(14.9 -5.76 0 -1.8 364.09 269.35)" x="0.6" y="50" width="0.8" height="34.5" fill="url(#jf)"/>
<path d="M373.03 113.38L384.95 108.77L376.68 103.3L364.75 107.9Z" fill="#ff9000"/>
<rect transform="matrix(10.35 6.84 0 -1.8 421.44 188.64)" x="5.6" y="50" width="0.8" height="47.36" fill="url(#jl)"/>
<rect transform="matrix(14.9 -5.76 0 -1.8 374.44 276.19)" x="7.6" y="50" width="0.8" height="47.36" fill="url(#jf)"/>
<path d="M487.69 56.68L499.61 52.08L491.32 46.6L479.4 51.21Z" fill="#950000"/>
<rect transform="matrix(10.35 6.84 0 -1.8 406.54 194.4)" x="5.6" y="50" width="0.8" height="34.04" fill="url(#jl)"/>
<rect transform="matrix(14.9 -5.76 0 -1.8 374.44 276.19)" x="6.6" y="50" width="0.8" height="34.04" fill="url(#jf)"/>
<path d="M472.78 86.49L484.7 81.88L476.42 76.41L464.5 81.01Z" fill="#ff9900"/>
<rect transform="matrix(10.35 6.84 0 -1.8 391.64 200.16)" x="5.6" y="50" width="0.8" height="47.45" fill="url(#jl)"/>
<rect transform="matrix(14.9 -5.76 0 -1.8 374.44 276.19)" x="5.6" y="50" width="0.8" height="47.45" fill="url(#jf)"/>
<path d="M457.88 68.04L469.81 63.43L461.52 57.96L449.6 62.57Z" fill="#930000"/>
<rect transform="matrix(10.35 6.84 0 -1.8 376.75 205.92)" x="5.6" y="50" width="0.8" height="26.35" fill="url(#jl)"/>
<rect transform="matrix(14.9 -5.76 0 -1.8 374.44 276.19)" x="4.6" y="50" width="0.8" height="26.35" fill="url(#jf)"/>
<path d="M442.99 111.89L454.9 107.28L446.62 101.81L434.7 106.41Z" fill="#c9ff36"/>
<rect transform="matrix(10.35 6.84 0 -1.8 361.84 211.68)" x="5.6" y="50" width="0.8" height="45.84" fill="url(#jl)"/>
<rect transform="matrix(14.9 -5.76 0 -1.8 374.44 276.19)" x="3.6" y="50" width="0.8" height="45.84" fill="url(#jf)"/>
<path d="M428.08 82.47L440 77.86L431.72 72.39L419.8 76.99Z" fill="#b20000"/>
<rect transform="matrix(10.35 6.84 0 -1.8 346.94 217.44)" x="5.6" y="50" width="0.8" height="34.61" fill="url(#jl)"/>
<rect transform="matrix(14.9 -5.76 0 -1.8 374.44 276.19)" x="2.6" y="50" width="0.8" height="34.61" fill="url(#jf)"/>
<path d="M413.19 108.5L425.1 103.89L416.82 98.42L404.9 103.02Z" fill="#ff8e00"/>
<rect transform="matrix(10.35 6.84 0 -1.8 332.04 223.2)" x="5.6" y="50" width="0.8" height="43.24" fill="url(#jl)"/>
<rect transform="matrix(14.9 -5.76 0 -1.8 374.44 276.19)" x="1.6" y="50" width="0.8" height="43.24" fill="url(#jf)"/>
<path d="M398.28 98.68L410.2 94.07L401.92 88.6L390 93.21Z" fill="#e40000"/>
<rect transform="matrix(10.35 6.84 0 -1.8 317.14 228.96)" x="5.6" y="50" width="0.8" height="46.07" fill="url(#jl)"/>
<rect transform="matrix(14.9 -5.76 0 -1.8 374.44 276.19)" x="0.6" y="50" width="0.8" height="46.07" fill="url(#jf)"/>
<path d="M383.38 99.33L395.31 94.72L387.02 89.25L375.1 93.86Z" fill="#ae0000"/>
<rect transform="matrix(10.35 6.84 0 -1.8 421.44 188.64)" x="6.6" y="50" width="0.8" height="43.37" fill="url(#jl)"/>
<rect transform="matrix(14.9 -5.76 0 -1.8 384.8 283.03)" x="7.6" y="50" width="0.8" height="43.37" fill="url(#jf)"/>
<path d="M498.04 70.73L509.96 66.12L501.68 60.65L489.75 65.25Z" fill="#e10000"/>
<rect transform="matrix(10.35 6.84 0 -1.8 406.54 194.4)" x="6.6" y="50" width="0.8" height="34.04" fill="url(#jl)"/>
<rect transform="matrix(14.9 -5.76 0 -1.8 384.8 283.03)" x="6.6" y="50" width="0.8" height="34.04" fill="url(#jf)"/>
<path d="M483.13 93.33L495.06 88.72L486.77 83.25L474.85 87.85Z" fill="#ff9900"/>
<rect transform="matrix(10.35 6.84 0 -1.8 391.64 200.16)" x="6.6" y="50" width="0.8" height="43.66" fill="url(#jl)"/>
<rect transform="matrix(14.9 -5.76 0 -1.8 384.8 283.03)" x="5.6" y="50" width="0.8" height="43.66" fill="url(#jf)"/>
<path d="M468.24 81.72L480.16 77.11L471.88 71.64L459.95 76.25Z" fill="#dc0000"/>
<rect transform="matrix(10.35 6.84 0 -1.8 376.75 205.92)" x="6.6" y="50" width="0.8" height="29.34" fill="url(#jl)"/>
<rect transform="matrix(14.9 -5.76 0 -1.8 384.8 283.03)" x="4.6" y="50" width="0.8" height="29.34" fill="url(#jf)"/>
<path d="M453.34 113.33L465.25 108.72L456.98 103.25L445.05 107.86Z" fill="#fff600"/>
<rect transform="matrix(10.35 6.84 0 -1.8 361.84 211.68)" x="6.6" y="50" width="0.8" height="29.48" fill="url(#jl)"/>
<rect transform="matrix(14.9 -5.76 0 -1.8 384.8 283.03)" x="3.6" y="50" width="0.8" height="29.48" fill="url(#jf)"/>
<path d="M438.44 118.84L450.36 114.23L442.07 108.76L430.15 113.36Z" fill="#fff400"/>
<rect transform="matrix(10.35 6.84 0 -1.8 346.94 217.44)" x="6.6" y="50" width="0.8" height="46.18" fill="url(#jl)"/>
<rect transform="matrix(14.9 -5.76 0 -1.8 384.8 283.03)" x="2.6" y="50" width="0.8" height="46.18" fill="url(#jf)"/>
<path d="M423.54 94.45L435.45 89.85L427.17 84.37L415.25 88.98Z" fill="#ac0000"/>
<rect transform="matrix(10.35 6.84 0 -1.8 332.04 223.2)" x="6.6" y="50" width="0.8" height="47.92" fill="url(#jl)"/>
<rect transform="matrix(14.9 -5.76 0 -1.8 384.8 283.03)" x="1.6" y="50" width="0.8" height="47.92" fill="url(#jf)"/>
<path d="M408.63 97.07L420.56 92.46L412.27 86.99L400.35 91.6Z" fill="#8b0000"/>
<rect transform="matrix(10.35 6.84 0 -1.8 317.14 228.96)" x="6.6" y="50" width="0.8" height="43.18" fill="url(#jl)"/>
<rect transform="matrix(14.9 -5.76 0 -1.8 384.8 283.03)" x="0.6" y="50" width="0.8" height="43.18" fill="url(#jf)"/>
<path d="M393.74 111.39L405.66 106.78L397.38 101.31L385.45 105.92Z" fill="#e50000"/>
<rect transform="matrix(10.35 6.84 0 -1.8 421.44 188.64)" x="7.6" y="50" width="0.8" height="47.16" fill="url(#jl)"/>
<rect transform="matrix(14.9 -5.76 0 -1.8 395.14 289.87)" x="7.6" y="50" width="0.8" height="47.16" fill="url(#jf)"/>
<path d="M508.38 70.72L520.3 66.12L512.02 60.64L500.1 65.25Z" fill="#990000"/>
<rect transform="matrix(10.35 6.84 0 -1.8 406.54 194.4)" x="7.6" y="50" width="0.8" height="48.8" fill="url(#jl)"/>
<rect transform="matrix(14.9 -5.76 0 -1.8 395.14 289.87)" x="6.6" y="50" width="0.8" height="48.8" fill="url(#jf)"/>
<path d="M493.48 73.52L505.4 68.92L497.12 63.44L485.2 68.05Z" fill="#800000"/>
<rect transform="matrix(10.35 6.84 0 -1.8 391.64 200.16)" x="7.6" y="50" width="0.8" height="38.87" fill="url(#jl)"/>
<rect transform="matrix(14.9 -5.76 0 -1.8 395.14 289.87)" x="5.6" y="50" width="0.8" height="38.87" fill="url(#jf)"/>
<path d="M478.58 97.21L490.5 92.6L482.22 87.13L470.3 91.74Z" fill="#ff3a00"/>
<rect transform="matrix(10.35 6.84 0 -1.8 376.75 205.92)" x="7.6" y="50" width="0.8" height="46.39" fill="url(#jl)"/>
<rect transform="matrix(14.9 -5.76 0 -1.8 395.14 289.87)" x="4.6" y="50" width="0.8" height="46.39" fill="url(#jf)"/>
<path d="M463.68 89.39L475.61 84.79L467.32 79.31L455.4 83.92Z" fill="#a80000"/>
<rect transform="matrix(10.35 6.84 0 -1.8 361.84 211.68)" x="7.6" y="50" width="0.8" height="40.16" fill="url(#jl)"/>
<rect transform="matrix(14.9 -5.76 0 -1.8 395.14 289.87)" x="3.6" y="50" width="0.8" height="40.16" fill="url(#jf)"/>
<path d="M448.78 106.4L460.7 101.79L452.42 96.32L440.5 100.93Z" fill="#ff2000"/>
<rect transform="matrix(10.35 6.84 0 -1.8 346.94 217.44)" x="7.6" y="50" width="0.8" height="44.79" fill="url(#jl)"/>
<rect transform="matrix(14.9 -5.76 0 -1.8 395.14 289.87)" x="2.6" y="50" width="0.8" height="44.79" fill="url(#jf)"/>
<path d="M433.88 103.8L445.8 99.19L437.52 93.72L425.6 98.33Z" fill="#c60000"/>
<rect transform="matrix(10.35 6.84 0 -1.8 332.04 223.2)" x="7.6" y="50" width="0.8" height="48.42" fill="url(#jl)"/>
<rect transform="matrix(14.9 -5.76 0 -1.8 395.14 289.87)" x="1.6" y="50" width="0.8" height="48.42" fill="url(#jf)"/>
<path d="M418.98 103.01L430.9 98.4L422.62 92.93L410.7 97.54Z" fill="#810000"/>
<rect transform="matrix(10.35 6.84 0 -1.8 317.14 228.96)" x="7.6" y="50" width="0.8" height="36.9" fill="url(#jl)"/>
<rect transform="matrix(14.9 -5.76 0 -1.8 395.14 289.87)" x="0.6" y="50" width="0.8" height="36.9" fill="url(#jf)"/>
<path d="M404.08 129.56L416 124.96L407.72 119.48L395.8 124.09Z" fill="#ff6100"/>
</g>
<path d="M316.4 139L316.4 48.75M316.4 139L419.9 207.4M419.9 207.4L536.87 162.18M316.4 139L313.6 137.7M316.4 120.95L313.6 119.65M316.4 102.9L313.6 101.6M316.4 84.85L313.6 83.55M316.4 66.8L313.6 65.5M316.4 48.75L313.6 47.45M326.75 145.84L323.47 147.11M337.1 152.68L333.82 153.95M347.45 159.52L344.17 160.79M357.8 166.36L354.52 167.63M368.15 173.2L364.87 174.47M378.5 180.04L375.22 181.31M388.85 186.88L385.57 188.15M399.2 193.72L395.92 194.99M426.6 204.81L429.34 206.61M441.5 199.05L444.24 200.85M456.4 193.29L459.14 195.09M471.3 187.53L474.04 189.33M486.2 181.77L488.94 183.57M501.1 176.01L503.84 177.81M516 170.25L518.74 172.05M530.9 164.49L533.64 166.29" fill="none" stroke="#5a5a5a" stroke-width="0.7"/>
<g font-family="'Liberation Sans', Arial, sans-serif" font-size="7.8" fill="#2a2a2a">
<text x="310.9" y="139.1" text-anchor="end">50</text>
<text x="310.9" y="121.05" text-anchor="end">60</text>
<text x="310.9" y="103" text-anchor="end">70</text>
<text x="310.9" y="84.95" text-anchor="end">80</text>
<text x="310.9" y="66.9" text-anchor="end">90</text>
<text x="310.9" y="48.85" text-anchor="end">100</text>
<text x="321.25" y="155.84" text-anchor="end">64</text>
<text x="331.6" y="162.68" text-anchor="end">128</text>
<text x="341.95" y="169.52" text-anchor="end">192</text>
<text x="352.3" y="176.36" text-anchor="end">256</text>
<text x="362.65" y="183.2" text-anchor="end">320</text>
<text x="373" y="190.04" text-anchor="end">384</text>
<text x="383.35" y="196.88" text-anchor="end">448</text>
<text x="393.7" y="203.72" text-anchor="end">512</text>
<text x="437.5" y="215.81" text-anchor="middle">1/8</text>
<text x="452.4" y="210.05" text-anchor="middle">2/8</text>
<text x="467.3" y="204.29" text-anchor="middle">3/8</text>
<text x="482.2" y="198.53" text-anchor="middle">4/8</text>
<text x="497.1" y="192.77" text-anchor="middle">5/8</text>
<text x="512" y="187.01" text-anchor="middle">6/8</text>
<text x="526.9" y="181.25" text-anchor="middle">7/8</text>
<text x="538.8" y="175.49" text-anchor="middle">1</text>
<text transform="translate(293.5 94.88) rotate(-90)" text-anchor="middle" font-size="8.9">Accuracy(%)</text>
<text transform="translate(335.51 190.96) rotate(33.46)" text-anchor="middle" font-size="8.9">window size</text>
<text transform="translate(500.21 204.34) rotate(-21.14)" text-anchor="middle" font-size="8.9">step</text>
</g>
<text x="412.8" y="240.7" text-anchor="middle" font-family="'Liberation Serif', 'DejaVu Serif', serif" font-size="13.3" fill="#111">(<tspan font-weight="bold">b</tspan>)</text></g>
</svg>
</body></html>
